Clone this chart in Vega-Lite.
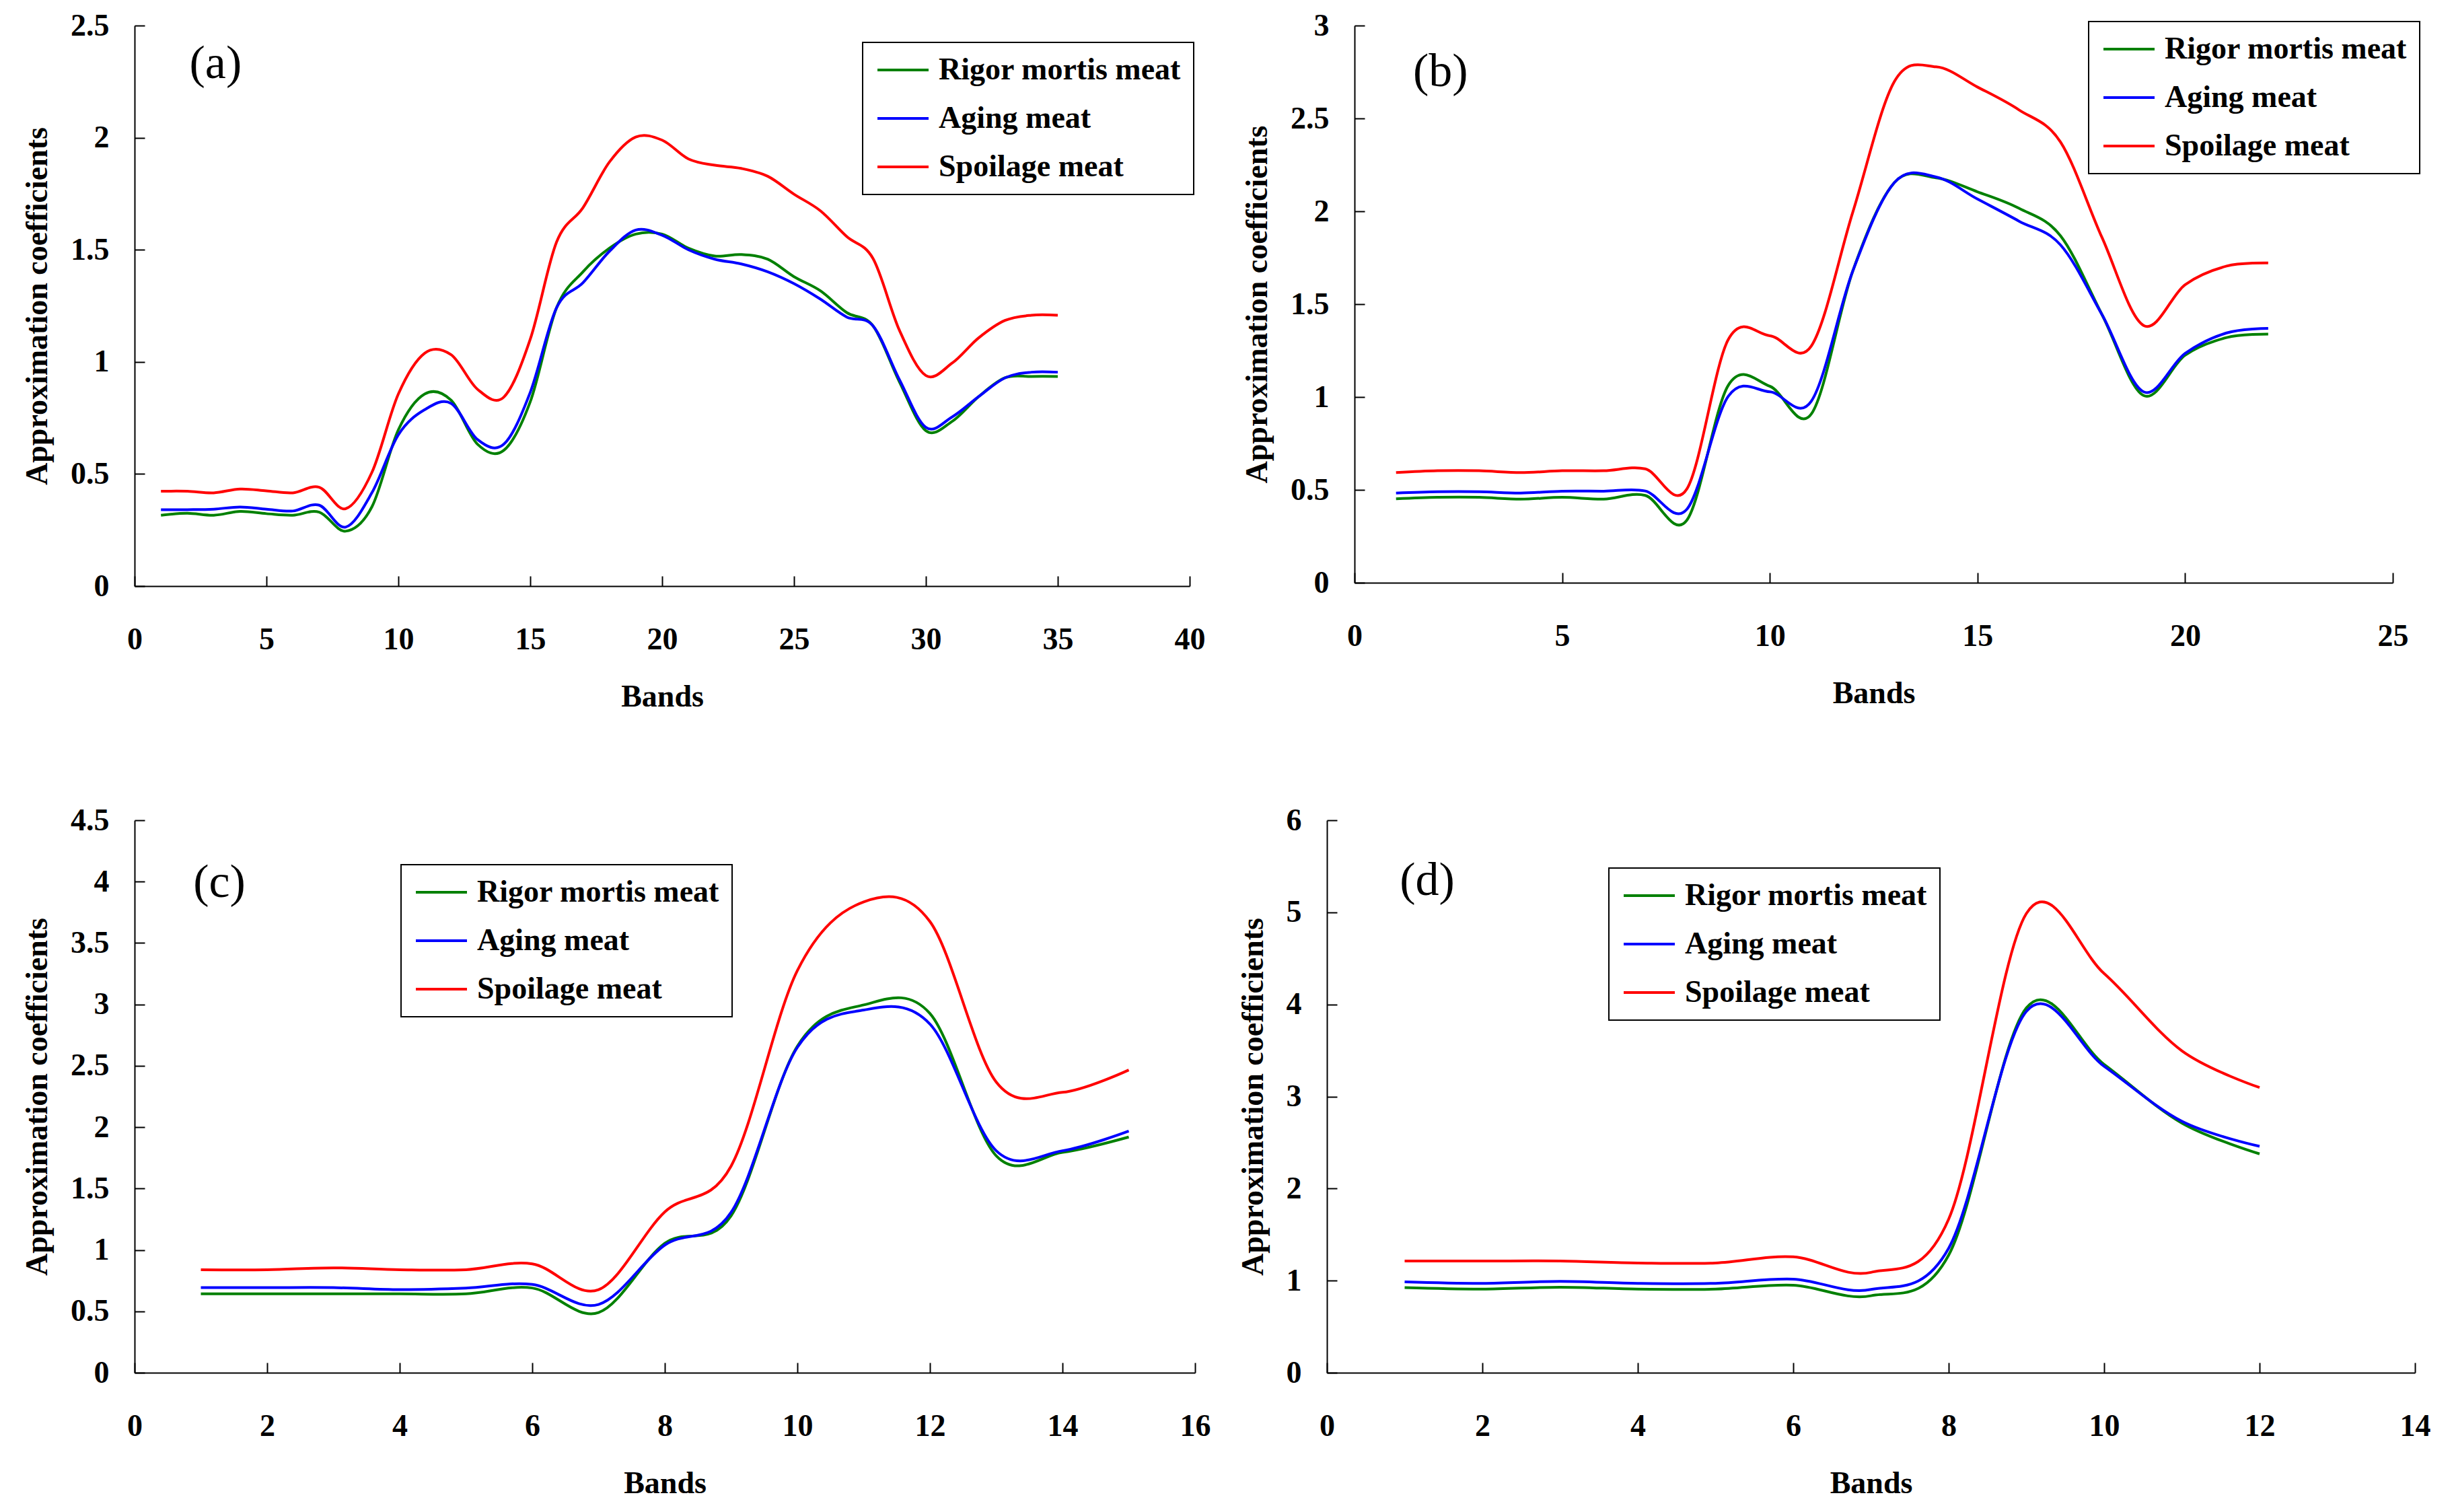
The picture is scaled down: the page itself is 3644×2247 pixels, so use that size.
{
  "$schema": "https://vega.github.io/schema/vega-lite/v6.json",
  "background": "white",
  "padding": {"left": 32, "top": 15, "right": 0, "bottom": 0},
  "autosize": {"type": "pad"},
  "config": {
    "font": "Liberation Serif",
    "view": {"stroke": null},
    "axis": {
      "grid": false, "domainColor": "black", "domainWidth": 2, "tickColor": "black", "tickWidth": 2, "tickSize": -15,
      "labelFont": "Liberation Serif", "labelFontSize": 46, "labelFontWeight": "bold", "labelColor": "black",
      "titleFont": "Liberation Serif", "titleFontSize": 46, "titleFontWeight": "bold", "titleColor": "black",
      "labelOverlap": false, "labelFlush": false, "format": "~g"
    },
    "axisX": {"labelPadding": 72, "titlePadding": 40},
    "axisY": {"labelPadding": 53, "titlePadding": 25},
    "legend": {
      "orient": "none", "title": null, "symbolType": "M-1,0L3,0", "symbolSize": 1444, "symbolStrokeWidth": 4,
      "labelFont": "Liberation Serif", "labelFontSize": 46, "labelFontWeight": "bold", "labelColor": "black",
      "strokeColor": "black", "strokeWidth": 2, "fillColor": "white", "padding": 18, "rowPadding": 26, "labelOffset": 49,
      "labelLimit": 1000
    }
  },
  "datasets": {
    "a": [
      {"band": 1, "Rigor mortis meat": 0.316, "Aging meat": 0.341, "Spoilage meat": 0.423},
      {"band": 2, "Rigor mortis meat": 0.325, "Aging meat": 0.341, "Spoilage meat": 0.423},
      {"band": 3, "Rigor mortis meat": 0.316, "Aging meat": 0.343, "Spoilage meat": 0.416},
      {"band": 4, "Rigor mortis meat": 0.333, "Aging meat": 0.353, "Spoilage meat": 0.433},
      {"band": 5, "Rigor mortis meat": 0.323, "Aging meat": 0.343, "Spoilage meat": 0.425},
      {"band": 6, "Rigor mortis meat": 0.316, "Aging meat": 0.335, "Spoilage meat": 0.416},
      {"band": 7, "Rigor mortis meat": 0.33, "Aging meat": 0.361, "Spoilage meat": 0.441},
      {"band": 8, "Rigor mortis meat": 0.245, "Aging meat": 0.263, "Spoilage meat": 0.345},
      {"band": 9, "Rigor mortis meat": 0.354, "Aging meat": 0.417, "Spoilage meat": 0.508},
      {"band": 10, "Rigor mortis meat": 0.697, "Aging meat": 0.675, "Spoilage meat": 0.857},
      {"band": 11, "Rigor mortis meat": 0.857, "Aging meat": 0.787, "Spoilage meat": 1.039},
      {"band": 12, "Rigor mortis meat": 0.829, "Aging meat": 0.815, "Spoilage meat": 1.032},
      {"band": 13, "Rigor mortis meat": 0.633, "Aging meat": 0.654, "Spoilage meat": 0.878},
      {"band": 14, "Rigor mortis meat": 0.606, "Aging meat": 0.633, "Spoilage meat": 0.843},
      {"band": 15, "Rigor mortis meat": 0.822, "Aging meat": 0.864, "Spoilage meat": 1.101},
      {"band": 16, "Rigor mortis meat": 1.242, "Aging meat": 1.242, "Spoilage meat": 1.535},
      {"band": 17, "Rigor mortis meat": 1.402, "Aging meat": 1.353, "Spoilage meat": 1.688},
      {"band": 18, "Rigor mortis meat": 1.507, "Aging meat": 1.493, "Spoilage meat": 1.891},
      {"band": 19, "Rigor mortis meat": 1.57, "Aging meat": 1.588, "Spoilage meat": 2.003},
      {"band": 20, "Rigor mortis meat": 1.57, "Aging meat": 1.565, "Spoilage meat": 1.989},
      {"band": 21, "Rigor mortis meat": 1.507, "Aging meat": 1.5, "Spoilage meat": 1.905},
      {"band": 22, "Rigor mortis meat": 1.472, "Aging meat": 1.458, "Spoilage meat": 1.877},
      {"band": 23, "Rigor mortis meat": 1.479, "Aging meat": 1.437, "Spoilage meat": 1.863},
      {"band": 24, "Rigor mortis meat": 1.458, "Aging meat": 1.402, "Spoilage meat": 1.828},
      {"band": 25, "Rigor mortis meat": 1.38, "Aging meat": 1.349, "Spoilage meat": 1.748},
      {"band": 26, "Rigor mortis meat": 1.317, "Aging meat": 1.28, "Spoilage meat": 1.674},
      {"band": 27, "Rigor mortis meat": 1.22, "Aging meat": 1.2, "Spoilage meat": 1.559},
      {"band": 28, "Rigor mortis meat": 1.16, "Aging meat": 1.16, "Spoilage meat": 1.46},
      {"band": 29, "Rigor mortis meat": 0.91, "Aging meat": 0.92, "Spoilage meat": 1.14},
      {"band": 30, "Rigor mortis meat": 0.693, "Aging meat": 0.708, "Spoilage meat": 0.939},
      {"band": 31, "Rigor mortis meat": 0.735, "Aging meat": 0.755, "Spoilage meat": 0.995},
      {"band": 32, "Rigor mortis meat": 0.845, "Aging meat": 0.845, "Spoilage meat": 1.107},
      {"band": 33, "Rigor mortis meat": 0.929, "Aging meat": 0.929, "Spoilage meat": 1.185},
      {"band": 34, "Rigor mortis meat": 0.935, "Aging meat": 0.954, "Spoilage meat": 1.208},
      {"band": 35, "Rigor mortis meat": 0.935, "Aging meat": 0.954, "Spoilage meat": 1.208}
    ],
    "b": [
      {"band": 1, "Rigor mortis meat": 0.452, "Aging meat": 0.483, "Spoilage meat": 0.593},
      {"band": 2, "Rigor mortis meat": 0.46, "Aging meat": 0.49, "Spoilage meat": 0.603},
      {"band": 3, "Rigor mortis meat": 0.46, "Aging meat": 0.49, "Spoilage meat": 0.603},
      {"band": 4, "Rigor mortis meat": 0.45, "Aging meat": 0.483, "Spoilage meat": 0.593},
      {"band": 5, "Rigor mortis meat": 0.46, "Aging meat": 0.493, "Spoilage meat": 0.603},
      {"band": 6, "Rigor mortis meat": 0.45, "Aging meat": 0.493, "Spoilage meat": 0.603},
      {"band": 7, "Rigor mortis meat": 0.47, "Aging meat": 0.494, "Spoilage meat": 0.613},
      {"band": 8, "Rigor mortis meat": 0.336, "Aging meat": 0.395, "Spoilage meat": 0.504},
      {"band": 9, "Rigor mortis meat": 1.063, "Aging meat": 1.004, "Spoilage meat": 1.31},
      {"band": 10, "Rigor mortis meat": 1.058, "Aging meat": 1.028, "Spoilage meat": 1.33},
      {"band": 11, "Rigor mortis meat": 0.909, "Aging meat": 0.978, "Spoilage meat": 1.275},
      {"band": 12, "Rigor mortis meat": 1.68, "Aging meat": 1.68, "Spoilage meat": 1.997},
      {"band": 13, "Rigor mortis meat": 2.155, "Aging meat": 2.155, "Spoilage meat": 2.699},
      {"band": 14, "Rigor mortis meat": 2.18, "Aging meat": 2.185, "Spoilage meat": 2.778},
      {"band": 15, "Rigor mortis meat": 2.105, "Aging meat": 2.066, "Spoilage meat": 2.669},
      {"band": 16, "Rigor mortis meat": 2.016, "Aging meat": 1.947, "Spoilage meat": 2.546},
      {"band": 17, "Rigor mortis meat": 1.868, "Aging meat": 1.819, "Spoilage meat": 2.373},
      {"band": 18, "Rigor mortis meat": 1.443, "Aging meat": 1.443, "Spoilage meat": 1.858},
      {"band": 19, "Rigor mortis meat": 1.008, "Aging meat": 1.028, "Spoilage meat": 1.385},
      {"band": 20, "Rigor mortis meat": 1.225, "Aging meat": 1.235, "Spoilage meat": 1.605},
      {"band": 21, "Rigor mortis meat": 1.32, "Aging meat": 1.345, "Spoilage meat": 1.705},
      {"band": 22, "Rigor mortis meat": 1.339, "Aging meat": 1.37, "Spoilage meat": 1.722}
    ],
    "c": [
      {"band": 1, "Rigor mortis meat": 0.642, "Aging meat": 0.693, "Spoilage meat": 0.839},
      {"band": 2, "Rigor mortis meat": 0.642, "Aging meat": 0.693, "Spoilage meat": 0.839},
      {"band": 3, "Rigor mortis meat": 0.642, "Aging meat": 0.693, "Spoilage meat": 0.854},
      {"band": 4, "Rigor mortis meat": 0.642, "Aging meat": 0.677, "Spoilage meat": 0.839},
      {"band": 5, "Rigor mortis meat": 0.642, "Aging meat": 0.689, "Spoilage meat": 0.839},
      {"band": 6, "Rigor mortis meat": 0.69, "Aging meat": 0.719, "Spoilage meat": 0.887},
      {"band": 7, "Rigor mortis meat": 0.49, "Aging meat": 0.556, "Spoilage meat": 0.676},
      {"band": 8, "Rigor mortis meat": 1.054, "Aging meat": 1.04, "Spoilage meat": 1.31},
      {"band": 9, "Rigor mortis meat": 1.278, "Aging meat": 1.306, "Spoilage meat": 1.683},
      {"band": 10, "Rigor mortis meat": 2.66, "Aging meat": 2.65, "Spoilage meat": 3.276},
      {"band": 11, "Rigor mortis meat": 2.996, "Aging meat": 2.954, "Spoilage meat": 3.835},
      {"band": 12, "Rigor mortis meat": 2.926, "Aging meat": 2.84, "Spoilage meat": 3.675},
      {"band": 13, "Rigor mortis meat": 1.767, "Aging meat": 1.808, "Spoilage meat": 2.368},
      {"band": 14, "Rigor mortis meat": 1.795, "Aging meat": 1.808, "Spoilage meat": 2.284},
      {"band": 15, "Rigor mortis meat": 1.92, "Aging meat": 1.968, "Spoilage meat": 2.466}
    ],
    "d": [
      {"band": 1, "Rigor mortis meat": 0.924, "Aging meat": 0.987, "Spoilage meat": 1.213},
      {"band": 2, "Rigor mortis meat": 0.908, "Aging meat": 0.971, "Spoilage meat": 1.213},
      {"band": 3, "Rigor mortis meat": 0.929, "Aging meat": 0.992, "Spoilage meat": 1.213},
      {"band": 4, "Rigor mortis meat": 0.908, "Aging meat": 0.971, "Spoilage meat": 1.192},
      {"band": 5, "Rigor mortis meat": 0.908, "Aging meat": 0.971, "Spoilage meat": 1.192},
      {"band": 6, "Rigor mortis meat": 0.95, "Aging meat": 1.016, "Spoilage meat": 1.258},
      {"band": 7, "Rigor mortis meat": 0.836, "Aging meat": 0.904, "Spoilage meat": 1.09},
      {"band": 8, "Rigor mortis meat": 1.277, "Aging meat": 1.352, "Spoilage meat": 1.668},
      {"band": 9, "Rigor mortis meat": 3.962, "Aging meat": 3.925, "Spoilage meat": 4.988},
      {"band": 10, "Rigor mortis meat": 3.348, "Aging meat": 3.328, "Spoilage meat": 4.335},
      {"band": 11, "Rigor mortis meat": 2.712, "Aging meat": 2.731, "Spoilage meat": 3.496},
      {"band": 12, "Rigor mortis meat": 2.377, "Aging meat": 2.459, "Spoilage meat": 3.097}
    ]
  },
  "resolve": {"scale": {"color": "independent"}, "legend": {"color": "independent"}},
  "spacing": 138,
  "vconcat": [
    {
      "hconcat": [
        {
          "width": 1568, "height": 833,
          "layer": [
            {
              "data": {"name": "a"},
              "transform": [{"fold": ["Rigor mortis meat", "Aging meat", "Spoilage meat"], "as": ["meat", "value"]}],
              "mark": {"type": "line", "strokeWidth": 4, "interpolate": "cardinal", "tension": 0},
              "encoding": {
                "x": {"field": "band", "type": "quantitative", "scale": {"domain": [0, 40], "nice": false}, "axis": {"values": [0, 5, 10, 15, 20, 25, 30, 35, 40], "title": "Bands"}},
                "y": {"field": "value", "type": "quantitative", "scale": {"domain": [0, 2.5], "nice": false}, "axis": {"values": [0, 0.5, 1, 1.5, 2, 2.5], "title": "Approximation coefficients"}},
                "color": {"field": "meat", "type": "nominal", "scale": {"domain": ["Rigor mortis meat", "Aging meat", "Spoilage meat"], "range": ["#008000", "#0000ff", "#ff0000"]}, "legend": {"legendX": 1082, "legendY": 25}}
              }
            },
            {
              "data": {"values": [{}]},
              "mark": {"type": "text", "text": "(a)", "font": "Liberation Serif", "fontSize": 70, "fontWeight": "normal", "align": "center", "baseline": "middle"},
              "encoding": {"x": {"datum": 3.07, "type": "quantitative"}, "y": {"datum": 2.33, "type": "quantitative"}}
            }
          ]
        },
        {
          "width": 1543, "height": 828,
          "layer": [
            {
              "data": {"name": "b"},
              "transform": [{"fold": ["Rigor mortis meat", "Aging meat", "Spoilage meat"], "as": ["meat", "value"]}],
              "mark": {"type": "line", "strokeWidth": 4, "interpolate": "cardinal", "tension": 0},
              "encoding": {
                "x": {"field": "band", "type": "quantitative", "scale": {"domain": [0, 25], "nice": false}, "axis": {"values": [0, 5, 10, 15, 20, 25], "title": "Bands"}},
                "y": {"field": "value", "type": "quantitative", "scale": {"domain": [0, 3], "nice": false}, "axis": {"values": [0, 0.5, 1, 1.5, 2, 2.5, 3], "title": "Approximation coefficients"}},
                "color": {"field": "meat", "type": "nominal", "scale": {"domain": ["Rigor mortis meat", "Aging meat", "Spoilage meat"], "range": ["#008000", "#0000ff", "#ff0000"]}, "legend": {"legendX": 1091, "legendY": -6}}
              }
            },
            {
              "data": {"values": [{}]},
              "mark": {"type": "text", "text": "(b)", "font": "Liberation Serif", "fontSize": 70, "fontWeight": "normal", "align": "center", "baseline": "middle"},
              "encoding": {"x": {"datum": 2.07, "type": "quantitative"}, "y": {"datum": 2.75, "type": "quantitative"}}
            }
          ]
        }
      ],
      "spacing": 54,
      "resolve": {"scale": {"color": "independent"}, "legend": {"color": "independent"}}
    },
    {
      "hconcat": [
        {
          "width": 1576, "height": 821,
          "layer": [
            {
              "data": {"name": "c"},
              "transform": [{"fold": ["Rigor mortis meat", "Aging meat", "Spoilage meat"], "as": ["meat", "value"]}],
              "mark": {"type": "line", "strokeWidth": 4, "interpolate": "cardinal", "tension": 0},
              "encoding": {
                "x": {"field": "band", "type": "quantitative", "scale": {"domain": [0, 16], "nice": false}, "axis": {"values": [0, 2, 4, 6, 8, 10, 12, 14, 16], "title": "Bands"}},
                "y": {"field": "value", "type": "quantitative", "scale": {"domain": [0, 4.5], "nice": false}, "axis": {"values": [0, 0.5, 1, 1.5, 2, 2.5, 3, 3.5, 4, 4.5], "title": "Approximation coefficients"}},
                "color": {"field": "meat", "type": "nominal", "scale": {"domain": ["Rigor mortis meat", "Aging meat", "Spoilage meat"], "range": ["#008000", "#0000ff", "#ff0000"]}, "legend": {"legendX": 396, "legendY": 66}}
              }
            },
            {
              "data": {"values": [{}]},
              "mark": {"type": "text", "text": "(c)", "font": "Liberation Serif", "fontSize": 70, "fontWeight": "normal", "align": "center", "baseline": "middle"},
              "encoding": {"x": {"datum": 1.28, "type": "quantitative"}, "y": {"datum": 3.99, "type": "quantitative"}}
            }
          ]
        },
        {
          "width": 1617, "height": 821,
          "layer": [
            {
              "data": {"name": "d"},
              "transform": [{"fold": ["Rigor mortis meat", "Aging meat", "Spoilage meat"], "as": ["meat", "value"]}],
              "mark": {"type": "line", "strokeWidth": 4, "interpolate": "cardinal", "tension": 0},
              "encoding": {
                "x": {"field": "band", "type": "quantitative", "scale": {"domain": [0, 14], "nice": false}, "axis": {"values": [0, 2, 4, 6, 8, 10, 12, 14], "title": "Bands"}},
                "y": {"field": "value", "type": "quantitative", "scale": {"domain": [0, 6], "nice": false}, "axis": {"values": [0, 1, 2, 3, 4, 5, 6], "title": "Approximation coefficients"}},
                "color": {"field": "meat", "type": "nominal", "scale": {"domain": ["Rigor mortis meat", "Aging meat", "Spoilage meat"], "range": ["#008000", "#0000ff", "#ff0000"]}, "legend": {"legendX": 419, "legendY": 71}}
              }
            },
            {
              "data": {"values": [{}]},
              "mark": {"type": "text", "text": "(d)", "font": "Liberation Serif", "fontSize": 70, "fontWeight": "normal", "align": "center", "baseline": "middle"},
              "encoding": {"x": {"datum": 1.29, "type": "quantitative"}, "y": {"datum": 5.34, "type": "quantitative"}}
            }
          ]
        }
      ],
      "spacing": 40,
      "resolve": {"scale": {"color": "independent"}, "legend": {"color": "independent"}}
    }
  ]
}
